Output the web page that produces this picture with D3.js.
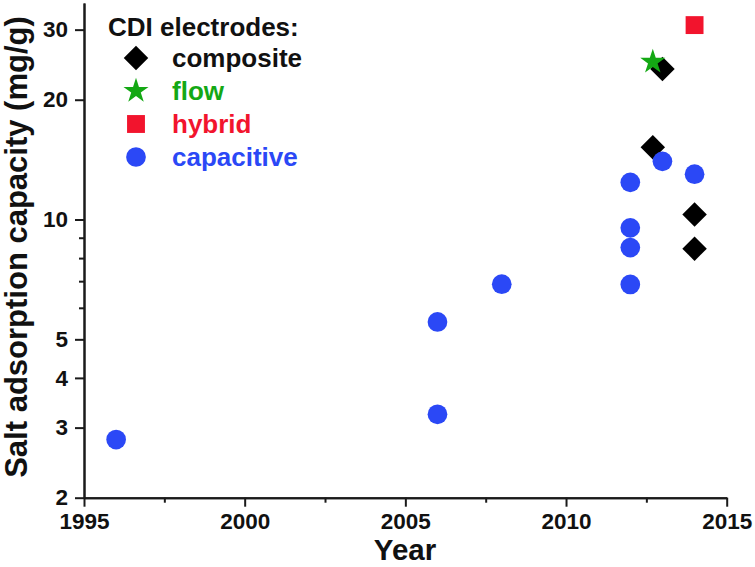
<!DOCTYPE html>
<html>
<head>
<meta charset="utf-8">
<script src="https://cdn.jsdelivr.net/npm/d3@7"></script>
<style>
  body { margin: 0; background: #fff; }
  svg { display: block; font-family: 'Liberation Sans', Arial, sans-serif; font-weight: bold; }
  .axis path, .axis line { stroke: #1a1a1a; stroke-width: 2; }
  .axis text { fill: #111; font-family: 'Liberation Sans', Arial, sans-serif; font-size: 22.5px; font-weight: bold; }
</style>
</head>
<body>
<svg id="chart" width="755" height="567"></svg>
<script>
// values
const compositeYear = [2012.7, 2013, 2014, 2014];
const compositeCap = [15.2, 23.9, 10.3, 8.45];
const flowYear = [2012.7];
const flowCap = [24.9];
const hybridYear = [2014];
const hybridCap = [30.8];
const capacitiveYear = [1996, 2006, 2006, 2008, 2012, 2012, 2012, 2012, 2013, 2014];
const capacitiveCap = [2.8, 5.53, 3.24, 6.88, 12.4, 9.53, 8.5, 6.87, 14.0, 13.0];

const xTicks = [1995, 2000, 2005, 2010, 2015];
const xMinor = [1997.5, 2002.5, 2007.5, 2012.5];
const yTicks = [2, 3, 4, 5, 10, 20, 30];
const yMinor = [6, 7, 8, 9];

const seriesNames = ['composite', 'flow', 'hybrid', 'capacitive'];
const seriesColors = ['#000000', '#14a814', '#f2142d', '#2b48f6'];

const svg = d3.select('#chart');

const xScale = d3.scaleLinear().domain([1995, 2015]).range([84, 726.7]);
const yScale = d3.scaleLog().domain([2, 35]).range([497.7, 3]);

/*
 ** Axes
 */
svg.append('g')
  .attr('class', 'axis')
  .attr('transform', 'translate(0, 497.7)')
  .call(d3.axisBottom(xScale).tickValues(xMinor).tickSize(5).tickSizeOuter(0).tickFormat(''));

svg.append('g')
  .attr('class', 'axis')
  .attr('transform', 'translate(0, 497.7)')
  .call(d3.axisBottom(xScale).tickValues(xTicks).tickSize(9).tickSizeOuter(0).tickFormat(d3.format('d')).tickPadding(6));

svg.append('g')
  .attr('class', 'axis')
  .attr('transform', 'translate(84, 0)')
  .call(d3.axisLeft(yScale).tickValues(yMinor).tickSize(5).tickSizeOuter(0).tickFormat(''));

svg.append('g')
  .attr('class', 'axis')
  .attr('transform', 'translate(84, 0)')
  .call(d3.axisLeft(yScale).tickValues(yTicks).tickSize(9).tickSizeOuter(0).tickFormat(d3.format('d')).tickPadding(7));

svg.append('text')
  .text('Year')
  .attr('x', 405)
  .attr('y', 560)
  .attr('text-anchor', 'middle')
  .attr('font-size', 29.5)
  .attr('fill', '#111');

svg.append('text')
  .text('Salt adsorption capacity (mg/g)')
  .attr('transform', 'translate(27, 247) rotate(-90)')
  .attr('text-anchor', 'middle')
  .attr('font-size', 31)
  .attr('fill', '#111');

/*
 ** Points
 */
const symbolFor = [
  d3.symbol().type(d3.symbolSquare).size(300),
  d3.symbol().type(d3.symbolStar).size(195),
  d3.symbol().type(d3.symbolSquare).size(320),
  d3.symbol().type(d3.symbolCircle).size(305)
];
const rotateFor = [45, 0, 0, 0];

const series = [
  { years: compositeYear, caps: compositeCap },
  { years: flowYear, caps: flowCap },
  { years: hybridYear, caps: hybridCap },
  { years: capacitiveYear, caps: capacitiveCap }
];

series.forEach((s, k) => {
  svg.append('g')
    .selectAll('path')
    .data(s.years.map((y, i) => [y, s.caps[i]]))
    .enter()
    .append('path')
    .attr('d', symbolFor[k]())
    .attr('fill', seriesColors[k])
    .attr('transform', d => `translate(${xScale(d[0])}, ${yScale(d[1])}) rotate(${rotateFor[k]})`);
});

/*
 ** Legend
 */
svg.append('text')
  .text('CDI electrodes:')
  .attr('x', 108)
  .attr('y', 36)
  .attr('font-size', 26)
  .attr('fill', '#111');

const legendItem = svg.append('g')
  .selectAll('g')
  .data(seriesNames)
  .enter()
  .append('g')
  .attr('transform', (d, i) => `translate(136, ${58 + 33 * i})`);

legendItem.append('path')
  .attr('d', (d, i) => symbolFor[i]())
  .attr('fill', (d, i) => seriesColors[i])
  .attr('transform', (d, i) => `rotate(${rotateFor[i]})`);

legendItem.append('text')
  .text(d => d)
  .attr('x', 36)
  .attr('y', 9)
  .attr('font-size', 26)
  .attr('fill', (d, i) => i === 0 ? '#111' : seriesColors[i]);
</script>
</body>
</html>
